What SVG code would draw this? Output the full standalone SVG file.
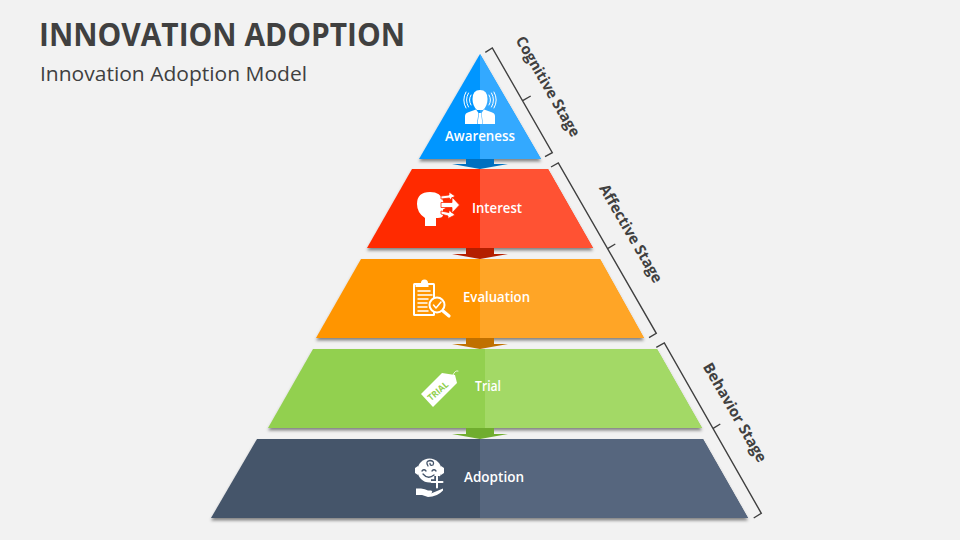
<svg xmlns="http://www.w3.org/2000/svg" width="960" height="540" viewBox="0 0 960 540">
<defs>
<filter id="sh" x="-10%" y="-10%" width="120%" height="125%"><feDropShadow dx="0" dy="2.5" stdDeviation="1.4" flood-color="#000" flood-opacity="0.45"/></filter>
</defs>
<style>
text{font-family:"Open Sans","Liberation Sans",sans-serif}
.lab{fill:#fff;font-size:14px;font-weight:600}
.stage{fill:#404040;font-size:15px;font-weight:700;text-anchor:middle}
.br{fill:none;stroke:#404040;stroke-width:1.4}
.w{fill:#fff}
.wl{fill:none;stroke:#fff;stroke-linecap:round;stroke-linejoin:round}
</style>
<rect width="960" height="540" fill="#f2f2f2"/>
<g id="title">
<text x="39" y="46" font-size="32" font-weight="700" fill="#404040" textLength="366" lengthAdjust="spacingAndGlyphs">INNOVATION ADOPTION</text>
<text x="40" y="81" font-size="20" fill="#404040" textLength="267" lengthAdjust="spacingAndGlyphs">Innovation Adoption Model</text>
</g>
<g id="awareness">
<polygon points="480,54 541,159 419,159" fill="#0096ff" filter="url(#sh)"/>
<polygon points="480,54 541,159 480,159" fill="#33a9ff"/>
<path class="w" d="M480,90Q487.500,90 487.500,99Q487.500,106 483,110H477Q472.500,106 472.500,99Q472.500,90 480,90Z"/>
<path class="w" d="M465,124V116Q465,113 469,112L476,109.500L478.500,113L477,124ZM495,124V116Q495,113 491,112L484,109.500L481.500,113L483,124ZM479,113H481L482.500,124H477.500Z"/>
<path class="wl" stroke-width="1" d="M471,95Q468,100 471,105M468.500,93Q464.500,100 468.500,107M466,92Q461.500,100 466,108M489,95Q492,100 489,105M491.500,93Q495.500,100 491.500,107M494,92Q498.500,100 494,108"/>
<text class="lab" x="480" y="141" text-anchor="middle" textLength="70" lengthAdjust="spacingAndGlyphs">Awareness</text>
</g>
<g id="interest">
<polygon points="412,169 548,169 593,248 367,248" fill="#ff2a00" filter="url(#sh)"/>
<polygon points="480,169 548,169 593,248 480,248" fill="#ff5233"/>
<path class="w" d="M425,226V218Q417,213 417,204Q417,192 430,192Q441,192 443,201L445.500,208L443,209.500V215Q443,218.500 436,218V226Z"/>
<path class="w" stroke="#ff2a00" stroke-width="0.8" d="M441,202.500H452V197L459.500,205L452,213V207.500H441ZM441,196L449,195V192L455,196L449.500,200V198L441,199ZM441,211L449,212.500V210L455,215L448,218.500V216L441,214Z"/>
<text class="lab" x="472" y="213" textLength="50" lengthAdjust="spacingAndGlyphs">Interest</text>
</g>
<g id="evaluation">
<polygon points="361,259 600,259 644,338 316,338" fill="#ff9500" filter="url(#sh)"/>
<polygon points="480,259 600,259 644,338 480,338" fill="#ffa526"/>
<rect x="413" y="283" width="22" height="33" rx="1.500" class="w"/>
<rect x="415" y="285" width="18" height="29" fill="#ff9500"/>
<path class="w" d="M415.500,287V283H421Q421,279.500 424.500,279.500Q428,279.500 428,283H428.500V287Z"/>
<path class="wl" stroke-width="1.500" d="M418,291H430M418,295H432M418,299H428M418,303H427M418,307H427M418,311H428"/>
<circle cx="437" cy="305" r="7.500" fill="#ff9500" stroke="#fff" stroke-width="2"/>
<path class="wl" stroke-width="1.500" d="M433.500,305L436,308L441,302"/>
<path class="wl" stroke-width="3.200" d="M443,311L449,316"/>
<text class="lab" x="463" y="302" textLength="67" lengthAdjust="spacingAndGlyphs">Evaluation</text>
</g>
<g id="trial">
<polygon points="313,349 657,349 702,428 268,428" fill="#92d050" filter="url(#sh)"/>
<polygon points="485,349 657,349 702,428 485,428" fill="#a3d966"/>
<path class="w" d="M421,394L442,373L455,375L457,383L433,407Z"/>
<path class="wl" stroke-width="0.8" d="M453,375Q455,370 458,371"/>
<text x="440" y="393.500" font-size="9" font-weight="700" fill="#92d050" text-anchor="middle" transform="rotate(-41 440 393.500)" textLength="24" lengthAdjust="spacingAndGlyphs">TRIAL</text>
<text class="lab" x="475" y="391" textLength="26" lengthAdjust="spacingAndGlyphs">Trial</text>
</g>
<g id="adoption">
<polygon points="257,439 703,439 748,518 211,518" fill="#44546a" filter="url(#sh)"/>
<polygon points="480,439 703,439 748,518 480,518" fill="#56667e"/>
<path class="w" d="M418,466V475L415,473V468ZM441,466V475L444,473V468Z"/>
<circle cx="429.500" cy="470.500" r="12" class="w"/>
<path fill="none" stroke="#44546a" stroke-width="1.300" stroke-linecap="round" d="M428,466Q425,461 430,460.500Q435,461 433,465Q430,466 430,463.500M422,471Q424,468.500 426,471M432,471Q434,468.500 436,471M423,474Q428,480 434,475"/>
<path fill="none" stroke="#44546a" stroke-width="5.500" d="M437,476V488M431,482H443"/>
<path class="wl" stroke-width="2" d="M437,476.500V487.500M431.500,482H442.500"/>
<path class="w" d="M416,488.500H421Q425,489 428,490.500H431Q433.500,491.500 431,493.500L426,493.500H431Q437,491 443,488.500L443,490.500Q437,497 428,497L422,495H416Z"/>
<text class="lab" x="464" y="482" textLength="60" lengthAdjust="spacingAndGlyphs">Adoption</text>
</g>
<g id="connectors">
<path fill="#0070c0" d="M466,159H494V164H508L480,169L452,164H466Z"/>
<path fill="#b41e00" d="M466,248H494V254H508L480,259L452,254H466Z"/>
<path fill="#c07000" d="M466,338H494V344H508L480,349L452,344H466Z"/>
<path fill="#70ad2f" d="M466,428H494V434H508L480,439L452,434H466Z"/>
</g>
<g id="brackets">
<path class="br" d="M485.300,52.300L492.300,48L552.300,152.700L545,156.700M522.700,100.700L530.700,96"/>
<path class="br" d="M551,167L558.300,163L656.300,333.300L649,337.700M608,248.300L615.300,244"/>
<path class="br" d="M656.300,347.300L664.300,343L761.300,513.300L753.700,518M712.700,428.700L720.300,424"/>
</g>
<g id="stage-labels">
<text class="stage" transform="translate(543.500,89) rotate(60)" textLength="113" lengthAdjust="spacingAndGlyphs">Cognitive Stage</text>
<text class="stage" transform="translate(626.500,236) rotate(60)" textLength="111" lengthAdjust="spacingAndGlyphs">Affective Stage</text>
<text class="stage" transform="translate(730.500,415) rotate(60)" textLength="112" lengthAdjust="spacingAndGlyphs">Behavior Stage</text>
</g>
</svg>
